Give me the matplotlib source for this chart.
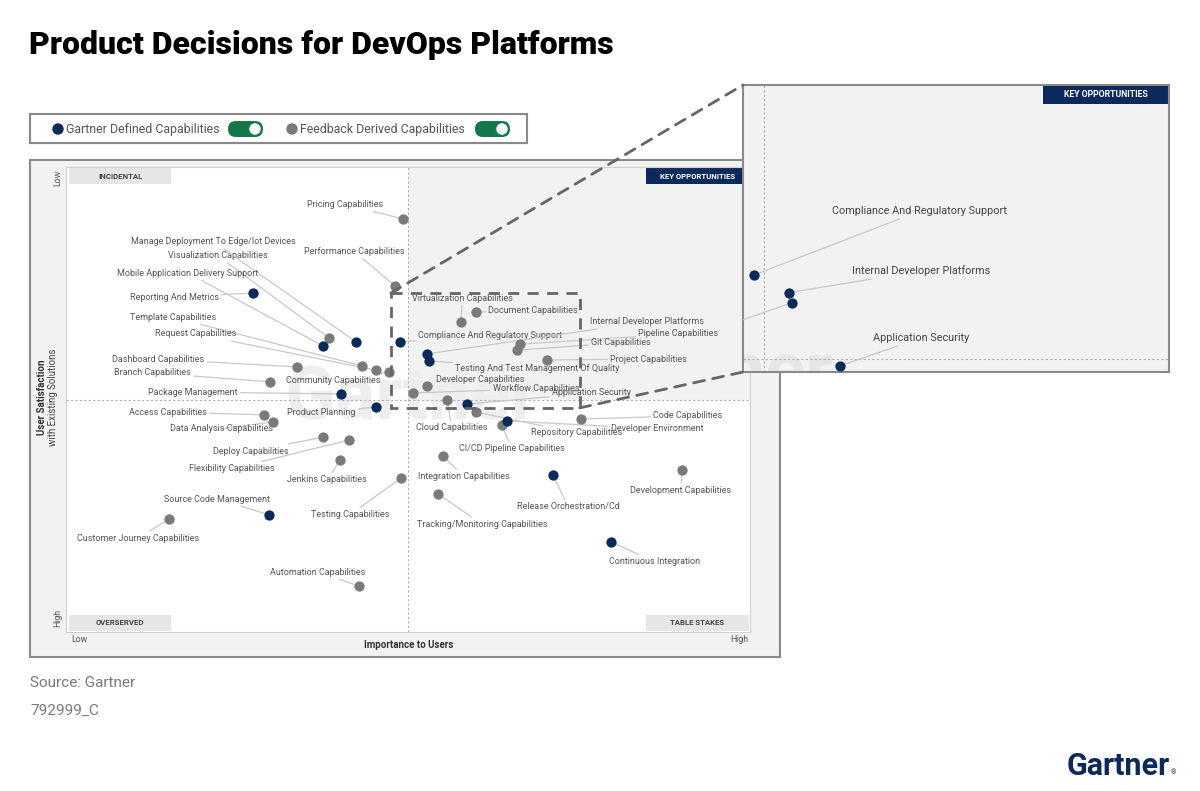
import matplotlib.pyplot as plt
from matplotlib.patches import Rectangle, FancyBboxPatch, Circle, ConnectionPatch

plt.rcParams['font.family'] = ['Roboto', 'DejaVu Sans']

NAVY = '#0b2a5b'
DOT_GRAY = '#7a7a7a'
LEADER = '#c8c8c8'
LABEL = '#555555'
FRAME = '#8a8a8a'
TOGGLE = '#12784a'

# Gartner defined capabilities (navy dots)
gartner_names = ["Manage Deployment To Edge/Iot Devices", "Mobile Application Delivery Support",
                 "Reporting And Metrics", "Package Management", "Product Planning",
                 "Source Code Management", "Compliance And Regulatory Support",
                 "Internal Developer Platforms", "Testing And Test Management Of Quality",
                 "Application Security", "Developer Environment", "Release Orchestration/Cd",
                 "Continuous Integration"]
gartner_importance = [42.4, 37.6, 27.3, 40.2, 45.3, 29.7, 48.8, 52.8, 53.1, 58.6, 64.5, 71.2, 79.7]
gartner_satisfaction = [37.6, 38.5, 27.1, 48.8, 51.6, 74.8, 37.6, 40.2, 41.7, 51.0, 54.6, 66.2, 80.6]

# Feedback derived capabilities (gray dots)
feedback_names = ["Pricing Capabilities", "Performance Capabilities", "Visualization Capabilities",
                  "Template Capabilities", "Request Capabilities", "Dashboard Capabilities",
                  "Branch Capabilities", "Community Capabilities", "Access Capabilities",
                  "Data Analysis Capabilities", "Deploy Capabilities", "Flexibility Capabilities",
                  "Jenkins Capabilities", "Customer Journey Capabilities", "Automation Capabilities",
                  "Testing Capabilities", "Virtualization Capabilities", "Document Capabilities",
                  "Pipeline Capabilities", "Git Capabilities", "Project Capabilities",
                  "Developer Capabilities", "Workflow Capabilities", "Cloud Capabilities",
                  "Repository Capabilities", "CI/CD Pipeline Capabilities", "Code Capabilities",
                  "Integration Capabilities", "Tracking/Monitoring Capabilities",
                  "Development Capabilities"]
feedback_importance = [49.3, 48.1, 38.5, 43.3, 45.3, 33.8, 29.8, 47.2, 28.9, 30.3, 37.6, 41.4,
                       40.1, 15.1, 42.8, 49.0, 57.7, 59.9, 66.4, 65.9, 70.3, 52.8, 50.7, 55.7,
                       59.9, 63.7, 75.3, 55.1, 54.4, 90.1]
feedback_satisfaction = [11.2, 25.6, 36.8, 42.8, 43.7, 43.0, 46.2, 44.1, 53.3, 54.8, 58.1, 58.7,
                         63.0, 75.7, 90.1, 66.9, 33.3, 31.2, 38.1, 39.4, 41.5, 47.1, 48.6, 50.1,
                         52.7, 55.5, 54.2, 62.2, 70.3, 65.2]

# where each label sits (text centre, same units as the axes)
label_pos = {
    "Manage Deployment To Edge/Iot Devices": (21.6, 16.1),
    "Mobile Application Delivery Support": (17.8, 22.8),
    "Reporting And Metrics": (15.8, 28.0),
    "Package Management": (18.6, 48.4),
    "Product Planning": (37.3, 52.9),
    "Source Code Management": (22.1, 71.4),
    "Compliance And Regulatory Support": (62.0, 36.3),
    "Internal Developer Platforms": (84.9, 33.3),
    "Testing And Test Management Of Quality": (68.9, 43.4),
    "Application Security": (76.8, 48.6),
    "Developer Environment": (86.4, 56.3),
    "Release Orchestration/Cd": (73.4, 73.1),
    "Continuous Integration": (86.0, 84.9),
    "Pricing Capabilities": (40.8, 8.0),
    "Performance Capabilities": (42.1, 18.1),
    "Visualization Capabilities": (22.2, 19.1),
    "Template Capabilities": (15.6, 32.3),
    "Request Capabilities": (18.9, 35.9),
    "Dashboard Capabilities": (13.5, 41.3),
    "Branch Capabilities": (12.7, 44.3),
    "Community Capabilities": (39.0, 46.0),
    "Access Capabilities": (14.9, 52.7),
    "Data Analysis Capabilities": (22.7, 56.3),
    "Deploy Capabilities": (27.0, 61.1),
    "Flexibility Capabilities": (24.3, 64.9),
    "Jenkins Capabilities": (38.2, 67.3),
    "Customer Journey Capabilities": (10.5, 79.8),
    "Automation Capabilities": (36.8, 87.1),
    "Testing Capabilities": (41.5, 74.8),
    "Virtualization Capabilities": (58.0, 28.2),
    "Document Capabilities": (68.3, 30.8),
    "Pipeline Capabilities": (89.5, 35.9),
    "Git Capabilities": (81.1, 37.8),
    "Project Capabilities": (85.2, 41.3),
    "Developer Capabilities": (60.5, 45.8),
    "Workflow Capabilities": (68.7, 47.7),
    "Cloud Capabilities": (56.4, 56.1),
    "Repository Capabilities": (74.7, 57.2),
    "CI/CD Pipeline Capabilities": (65.2, 60.6),
    "Code Capabilities": (90.9, 53.5),
    "Integration Capabilities": (58.2, 66.5),
    "Tracking/Monitoring Capabilities": (60.8, 76.8),
    "Development Capabilities": (89.9, 69.5),
}
inset_label_pos = {
    "Compliance And Regulatory Support": (67.7, 28.2),
    "Internal Developer Platforms": (67.9, 37.0),
    "Application Security": (67.8, 46.9),
}
zoom_box = (47.5, 27.1, 75.1, 51.8)  # x0, y0, x1, y1 of the dashed box

fig = plt.figure(figsize=(12, 7.91), dpi=100)

# background canvas in pixel units for the frames, legend and texts
bg = fig.add_axes([0, 0, 1, 1])
bg.set_xlim(0, 1200)
bg.set_ylim(791, 0)
bg.axis('off')

bg.text(29, 45, "Product Decisions for DevOps Platforms", fontsize=23, fontweight=900,
        color='black', va='center', ha='left')

# legend strip
bg.add_patch(Rectangle((30, 114), 497, 29, facecolor='white', edgecolor=FRAME, lw=1.5))
for cx, color, text, tx in [(58, NAVY, "Gartner Defined Capabilities", 228),
                            (292, DOT_GRAY, "Feedback Derived Capabilities", 475)]:
    bg.add_patch(Circle((cx, 129), 5, color=color))
    bg.text(cx + 8, 129.5, text, fontsize=8.9, color=LABEL, va='center', ha='left')
    bg.add_patch(FancyBboxPatch((tx, 121), 35, 16, boxstyle='round,pad=0,rounding_size=8',
                                facecolor=TOGGLE, edgecolor='none'))
    bg.add_patch(Circle((tx + 27, 129), 6.3, facecolor='white', edgecolor=TOGGLE, lw=0.8))

# main chart frame
bg.add_patch(Rectangle((30, 160), 750, 497, facecolor='#f2f2f2', edgecolor=FRAME, lw=1.5))
bg.text(409, 645, "Importance to Users", fontsize=7, fontweight='bold', color='#333333',
        ha='center', va='center')
bg.text(71, 640, "Low", fontsize=6.3, color=LABEL, ha='left', va='center')
bg.text(748, 640, "High", fontsize=6.3, color=LABEL, ha='right', va='center')
bg.text(42, 397, "User Satisfaction", fontsize=7, fontweight='bold', color='#333333',
        rotation=90, ha='center', va='center')
bg.text(53, 397, "with Existing Solutions", fontsize=7, color='#444444',
        rotation=90, ha='center', va='center')
bg.text(58, 178, "Low", fontsize=6.3, color=LABEL, rotation=90, ha='center', va='center')
bg.text(58, 618, "High", fontsize=6.3, color=LABEL, rotation=90, ha='center', va='center')

bg.text(30, 683, "Source: Gartner", fontsize=11, color='#7a7a7a', va='center')
bg.text(30, 711, "792999_C", fontsize=11, color='#7a7a7a', va='center')
bg.text(1170, 766, "Gartner", fontsize=22, fontweight='bold', color=NAVY, ha='right', va='center')
bg.text(1171, 773, "®", fontsize=5, color=NAVY, ha='left', va='center')

# main quadrant chart
ax = fig.add_axes([66 / 1200, 1 - 632 / 791, 684 / 1200, 465 / 791])
ax.set_xlim(0, 100)
ax.set_ylim(100, 0)
ax.set_facecolor('white')
ax.set_xticks([])
ax.set_yticks([])
for s in ax.spines.values():
    s.set_color('#d0d0d0')
    s.set_linewidth(0.8)
ax.add_patch(Rectangle((50, 0), 50, 50, facecolor='#f2f2f2', edgecolor='none', zorder=0))
ax.axvline(50, color='#b0b0b0', lw=0.8, ls=(0, (2, 2)), zorder=1)
ax.axhline(50, color='#b0b0b0', lw=0.8, ls=(0, (2, 2)), zorder=1)
ax.text(50.5, 50, "Gartner", fontsize=54, fontweight='bold', color='#eeeeee',
        ha='center', va='center', zorder=0.5)

quad_boxes = [("INCIDENTAL", 0.004, 0.963, '#e6e6e6', '#444444'),
              ("KEY OPPORTUNITIES", 0.848, 0.963, NAVY, 'white'),
              ("OVERSERVED", 0.004, 0.003, '#e6e6e6', '#444444'),
              ("TABLE STAKES", 0.848, 0.003, '#e6e6e6', '#444444')]
for text, x0, y0, fc, tc in quad_boxes:
    ax.add_patch(Rectangle((x0, y0), 0.15, 0.034, transform=ax.transAxes,
                           facecolor=fc, edgecolor='none', zorder=2))
    ax.text(x0 + 0.075, y0 + 0.017, text, transform=ax.transAxes, fontsize=5.6,
            fontweight='bold', color=tc, ha='center', va='center', zorder=3)


def draw_points(axis, names, xs, ys, color, positions, fontsize, tcolor):
    axis.scatter(xs, ys, s=55, color=color, zorder=5, linewidths=0)
    for name, x, y in zip(names, xs, ys):
        if name not in positions:
            continue
        axis.annotate(name, xy=(x, y), xytext=positions[name], fontsize=fontsize,
                      color=tcolor, ha='center', va='center', zorder=4,
                      arrowprops=dict(arrowstyle='-', color=LEADER, lw=0.9,
                                      shrinkA=0, shrinkB=3))


draw_points(ax, feedback_names, feedback_importance, feedback_satisfaction, DOT_GRAY,
            label_pos, 6.5, LABEL)
draw_points(ax, gartner_names, gartner_importance, gartner_satisfaction, NAVY,
            label_pos, 6.5, LABEL)

x0, y0, x1, y1 = zoom_box
ax.add_patch(Rectangle((x0, y0), x1 - x0, y1 - y0, fill=False, edgecolor='#666666', lw=2,
                       ls=(0, (4, 3)), zorder=6))

# zoomed key opportunities panel
axi = fig.add_axes([743 / 1200, 1 - 372 / 791, 426 / 1200, 287 / 791])
axi.set_xlim(47.55, 96.1)
axi.set_ylim(51.9, 9.6)
axi.set_facecolor('#f2f2f2')
axi.set_xticks([])
axi.set_yticks([])
for s in axi.spines.values():
    s.set_color(FRAME)
    s.set_linewidth(1.5)
axi.axvline(50, color='#b0b0b0', lw=0.8, ls=(0, (2, 2)), zorder=1)
axi.axhline(50, color='#b0b0b0', lw=0.8, ls=(0, (2, 2)), zorder=1)
axi.text(43.4, 52.3, "Gartner", fontsize=54, fontweight='bold', color='#e6e6e6',
         ha='center', va='center', zorder=0.5, clip_on=True)
axi.add_patch(Rectangle((0.704, 0.934), 0.296, 0.066, transform=axi.transAxes,
                        facecolor=NAVY, edgecolor='none', zorder=2))
axi.text(0.852, 0.967, "KEY OPPORTUNITIES", transform=axi.transAxes, fontsize=6.3,
         fontweight='bold', color='white', ha='center', va='center', zorder=3)

in_box = [i for i in range(len(gartner_names))
          if x0 <= gartner_importance[i] <= x1 and y0 <= gartner_satisfaction[i] <= y1]
draw_points(axi, [gartner_names[i] for i in in_box], [gartner_importance[i] for i in in_box],
            [gartner_satisfaction[i] for i in in_box], NAVY, inset_label_pos, 7.8, '#444444')
t = gartner_names.index("Testing And Test Management Of Quality")
axi.plot([gartner_importance[t], gartner_importance[t] - 6],
         [gartner_satisfaction[t], gartner_satisfaction[t] + 2.7],
         color=LEADER, lw=0.9, zorder=3)

for xyA, xyB in [((x0, y0), (0, 1)), ((x1, y1), (0, 0))]:
    con = ConnectionPatch(xyA=xyA, coordsA=ax.transData, xyB=xyB, coordsB=axi.transAxes,
                          color='#666666', lw=2, ls=(0, (4, 3)))
    fig.add_artist(con)

fig.savefig('out.png', dpi=100)
